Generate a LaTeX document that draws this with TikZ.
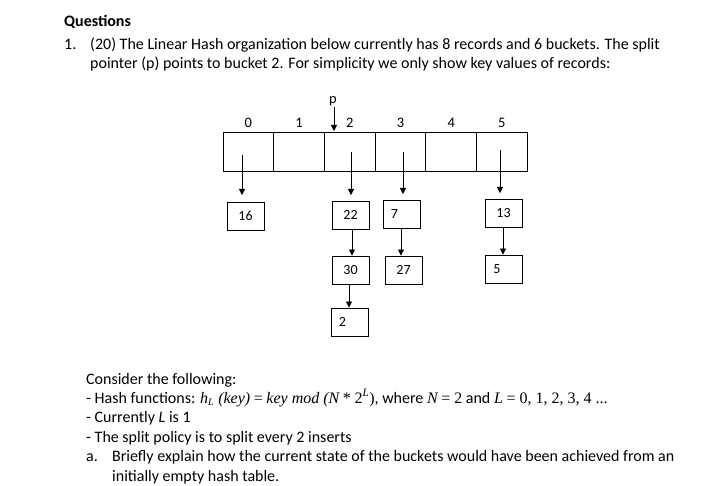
\documentclass[tikz,border=0pt]{standalone}
\usepackage{fontspec}
\setmainfont{Carlito}
\newfontfamily\tms{Liberation Serif}
\usetikzlibrary{arrows.meta}
\begin{document}
\begin{tikzpicture}[x=1pt,y=-1pt,
  txt/.style={anchor=base west,inner sep=0pt,font=\fontsize{16}{19}\selectfont},
  lbl/.style={inner sep=0pt,font=\fontsize{14.5}{17}\selectfont},
  rec/.style={draw,thick,minimum width=37pt,minimum height=28pt,inner sep=0pt,font=\fontsize{14}{16}\selectfont},
  arr/.style={-{Triangle[length=6pt,width=6pt]},thin},
  cell/.style={draw,thick,minimum width=50.7pt,minimum height=39pt,inner sep=0pt}]
\useasboundingbox (0,0) rectangle (720,486);
\node[txt,font=\fontsize{16}{19}\selectfont\bfseries] (q) at (64,27) {Questions};
\node[txt] (n1) at (64,50) {1.};
\node[txt] (l1) at (90,50) {(20) The Linear Hash organization below currently has 8 records and 6 buckets. The split};
\node[txt] (l2) at (90,69) {pointer (p) points to bucket 2. For simplicity we only show key values of records:};
% buckets
\foreach \i in {0,...,5}{
  \node[cell] (b\i) at (248.4+50.7*\i,151.5) {};
  \node[lbl] (t\i) at (248.4+50.7*\i,123) {\i};
}
\node[lbl] (p) at (333,101) {p};
\coordinate (pe) at (334,131);
\draw[arr] (334,107) -- (pe);
% records
\node[rec] (r16) at (245.5,216) {16};
\node[rec] (r22) at (350.5,215) {22};
\node[rec] (r30) at (350.5,270) {30};
\node[rec] (r2) at (349.5,322) {\hspace*{-14pt}2};
\node[rec] (r7) at (401.5,214.5) {\hspace*{-14pt}7};
\node[rec] (r27) at (403.5,270) {27};
\node[rec] (r13) at (503.5,213) {13};
\node[rec] (r5) at (504,269) {\hspace*{-14pt}5};
\draw[arr] (242,155) -- (242,195);
\draw[arr] (351,152) -- (351,195);
\draw[arr] (403,152) -- (403,194);
\draw[arr] (500,150) -- (500,193);
\draw[arr] (r22.south -| 352,0) -- (r30.north -| 352,0);
\draw[arr] (r30.south -| 349,0) -- (r2.north -| 349,0);
\draw[arr] (r7.south -| 401,0) -- (r27.north -| 401,0);
\draw[arr] (r13.south -| 503,0) -- (r5.north -| 503,0);
% bottom text
\node[txt] (c1) at (86,384) {Consider the following:};
\node[txt] (c2) at (86,403) {- Hash functions: {\tms\itshape h\textsubscript{\upshape\fontsize{10}{10}\selectfont\itshape L} (key)} {\tms=} {\tms\itshape key mod (N} {\tms *} {\tms 2\textsuperscript{\itshape L}}{\tms)}, where {\tms\itshape N} {\tms= 2} and {\tms\itshape L} {\tms = 0, 1, 2, 3, 4 ...}};
\node[txt] (c3) at (86,422) {- Currently \textit{L} is 1};
\node[txt] (c4) at (86,442) {- The split policy is to split every 2 inserts};
\node[txt] (a1) at (86,461) {a.};
\node[txt] (a2) at (112,461) {Briefly explain how the current state of the buckets would have been achieved from an};
\node[txt] (a3) at (112,481) {initially empty hash table.};
\end{tikzpicture}
\end{document}
